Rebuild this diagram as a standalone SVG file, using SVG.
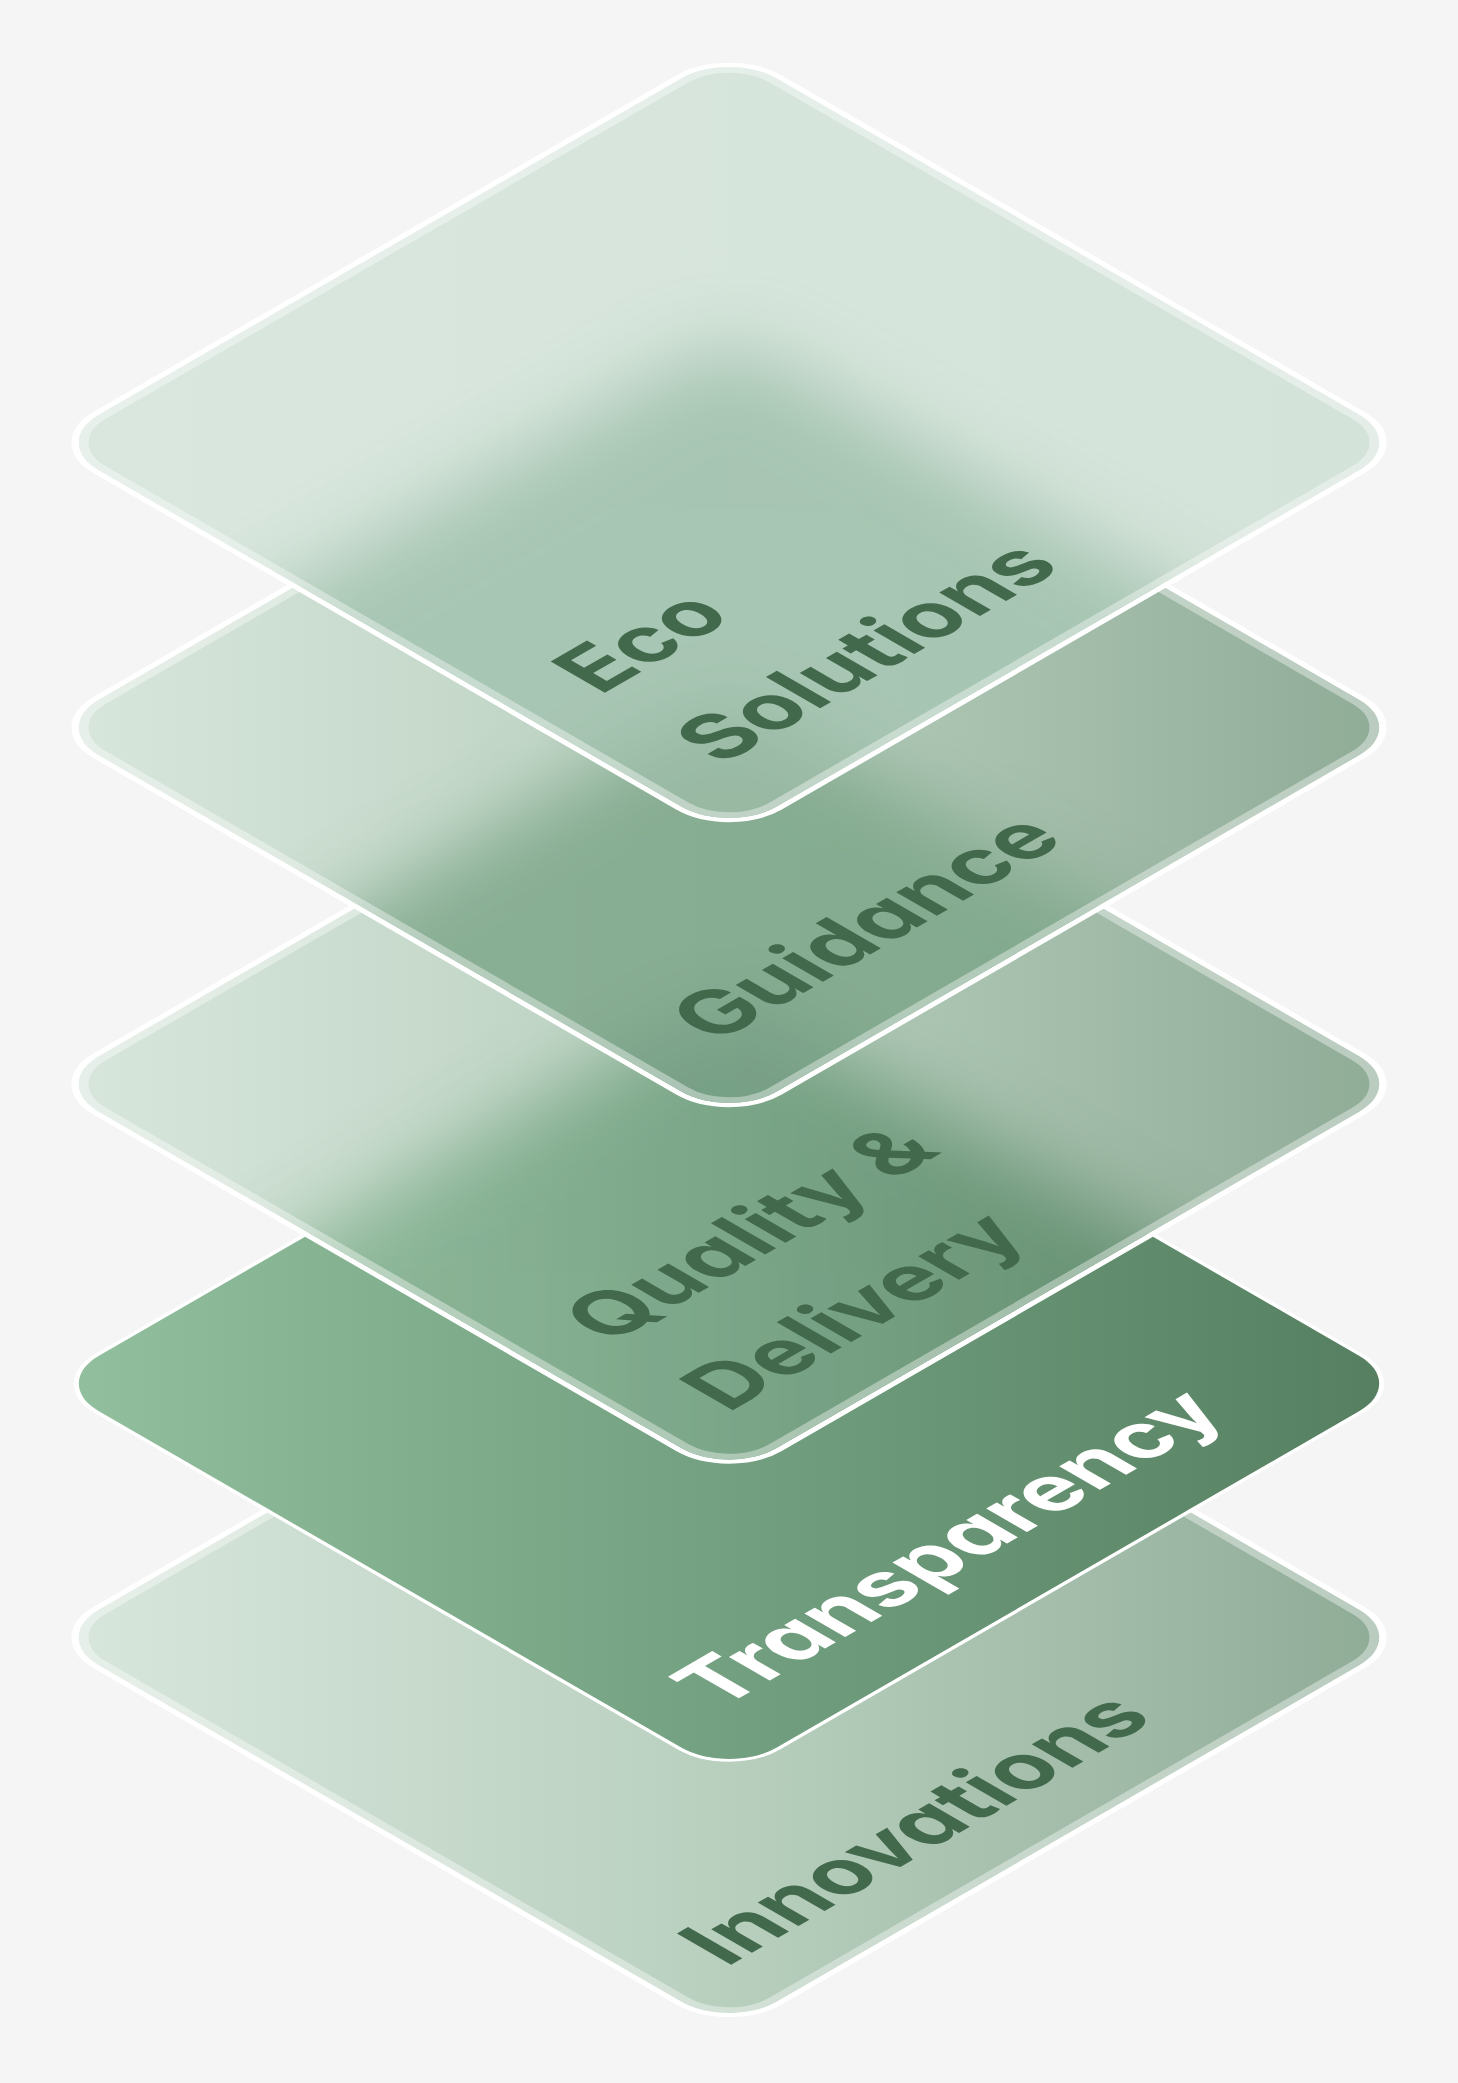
<svg xmlns="http://www.w3.org/2000/svg" xmlns:xlink="http://www.w3.org/1999/xlink" width="1458" height="2083" viewBox="0 0 1458 2083">
<style>
.lbl { font-family: Inter, "Liberation Sans", sans-serif; font-size: 86px; font-weight: 700; fill: #42694c; font-feature-settings: "cv11" 1; letter-spacing: 0px; }
.lbl-w { fill: #ffffff; }
.ring { fill: none; stroke: #ffffff; stroke-width: 6; }
.band { fill: none; stroke: #ffffff; stroke-opacity: 0.38; stroke-width: 8; }
</style>
<defs>
  <rect id="sq" x="0" y="0" width="783" height="783" rx="55" ry="55"/>
  <linearGradient id="gGlass" x1="0" y1="0" x2="1" y2="1">
    <stop offset="0" stop-color="#d9e7dd"/>
    <stop offset="0.5" stop-color="#b8cfbe"/>
    <stop offset="1" stop-color="#8eab96"/>
  </linearGradient>
  <linearGradient id="gEco" x1="0" y1="0" x2="1" y2="1">
    <stop offset="0" stop-color="#d9e7de"/>
    <stop offset="1" stop-color="#d4e3d9"/>
  </linearGradient>
  <linearGradient id="gTrans" x1="0" y1="0" x2="1" y2="1">
    <stop offset="0" stop-color="#93c09e"/>
    <stop offset="0.5" stop-color="#72a080"/>
    <stop offset="1" stop-color="#547e5f"/>
  </linearGradient>
  <filter id="blur" x="-30%" y="-30%" width="160%" height="160%">
    <feGaussianBlur stdDeviation="38"/>
  </filter>
  <clipPath id="cEco"><use xlink:href="#sq" transform="matrix(0.866025 -0.5 0.866025 0.5 50.9 442.5)"/></clipPath>
  <clipPath id="cGui"><use xlink:href="#sq" transform="matrix(0.866025 -0.5 0.866025 0.5 50.9 727.5)"/></clipPath>
  <clipPath id="cQua"><use xlink:href="#sq" transform="matrix(0.866025 -0.5 0.866025 0.5 50.9 1084)"/></clipPath>
</defs>

<rect x="0" y="0" width="1458" height="2083" fill="#f5f5f5"/>

<!-- Innovations (bottom) -->
<g id="card-innovations">
  <g transform="matrix(0.866025 -0.5 0.866025 0.5 50.9 1637.5)">
    <rect x="-3" y="-3" width="789" height="789" rx="58" class="ring"/>
    <use xlink:href="#sq" fill="url(#gGlass)"/>
    <rect x="4" y="4" width="775" height="775" rx="51" class="band"/>
    <text x="60" y="720" class="lbl">Innovations</text>
  </g>
</g>

<!-- Transparency -->
<g id="card-transparency">
  <g transform="matrix(0.866025 -0.5 0.866025 0.5 50.9 1383.5)">
    <rect x="-2" y="-2" width="787" height="787" rx="57" fill="none" stroke="#ffffff" stroke-width="4"/>
    <use xlink:href="#sq" fill="url(#gTrans)"/>
    <text x="60" y="712" class="lbl lbl-w">Transparency</text>
  </g>
</g>

<!-- Quality & Delivery -->
<g id="card-quality">
  <g transform="matrix(0.866025 -0.5 0.866025 0.5 50.9 1084)">
    <rect x="-3" y="-3" width="789" height="789" rx="58" class="ring"/>
    <use xlink:href="#sq" fill="url(#gGlass)"/>
  </g>
  <g clip-path="url(#cQua)">
    <g filter="url(#blur)" opacity="0.87">
      <use xlink:href="#sq" fill="url(#gTrans)" transform="matrix(0.866025 -0.5 0.866025 0.5 50.9 1383.5)"/>
    </g>
  </g>
  <g transform="matrix(0.866025 -0.5 0.866025 0.5 50.9 1084)">
    <rect x="4" y="4" width="775" height="775" rx="51" class="band"/>
    <text x="62" y="583" class="lbl">Quality &amp;</text>
    <text x="62" y="720" class="lbl">Delivery</text>
  </g>
</g>

<!-- Guidance -->
<g id="card-guidance">
  <g transform="matrix(0.866025 -0.5 0.866025 0.5 50.9 727.5)">
    <rect x="-3" y="-3" width="789" height="789" rx="58" class="ring"/>
    <use xlink:href="#sq" fill="url(#gGlass)"/>
  </g>
  <g clip-path="url(#cGui)">
    <g filter="url(#blur)" opacity="0.82">
      <use xlink:href="#sq" fill="#7ba588" transform="matrix(0.866025 -0.5 0.866025 0.5 50.9 1084)"/>
      <use xlink:href="#sq" fill="#6a967a" transform="matrix(0.866025 -0.5 0.866025 0.5 50.9 1383.5)"/>
    </g>
  </g>
  <g transform="matrix(0.866025 -0.5 0.866025 0.5 50.9 727.5)">
    <rect x="4" y="4" width="775" height="775" rx="51" class="band"/>
    <text x="68" y="700" class="lbl">Guidance</text>
  </g>
</g>

<!-- Eco Solutions (top) -->
<g id="card-eco">
  <g transform="matrix(0.866025 -0.5 0.866025 0.5 50.9 442.5)">
    <rect x="-3" y="-3" width="789" height="789" rx="58" class="ring"/>
    <use xlink:href="#sq" fill="url(#gEco)"/>
  </g>
  <g clip-path="url(#cEco)">
    <g filter="url(#blur)" opacity="0.6">
      <use xlink:href="#sq" fill="#88b198" transform="matrix(0.866025 -0.5 0.866025 0.5 50.9 727.5)"/>
      <use xlink:href="#sq" fill="#6f9b7e" transform="matrix(0.866025 -0.5 0.866025 0.5 50.9 1084)"/>
    </g>
  </g>
  <g transform="matrix(0.866025 -0.5 0.866025 0.5 50.9 442.5)">
    <rect x="4" y="4" width="775" height="775" rx="51" class="band"/>
    <text x="64" y="570" class="lbl">Eco</text>
    <text x="64" y="710" class="lbl">Solutions</text>
  </g>
</g>
</svg>
